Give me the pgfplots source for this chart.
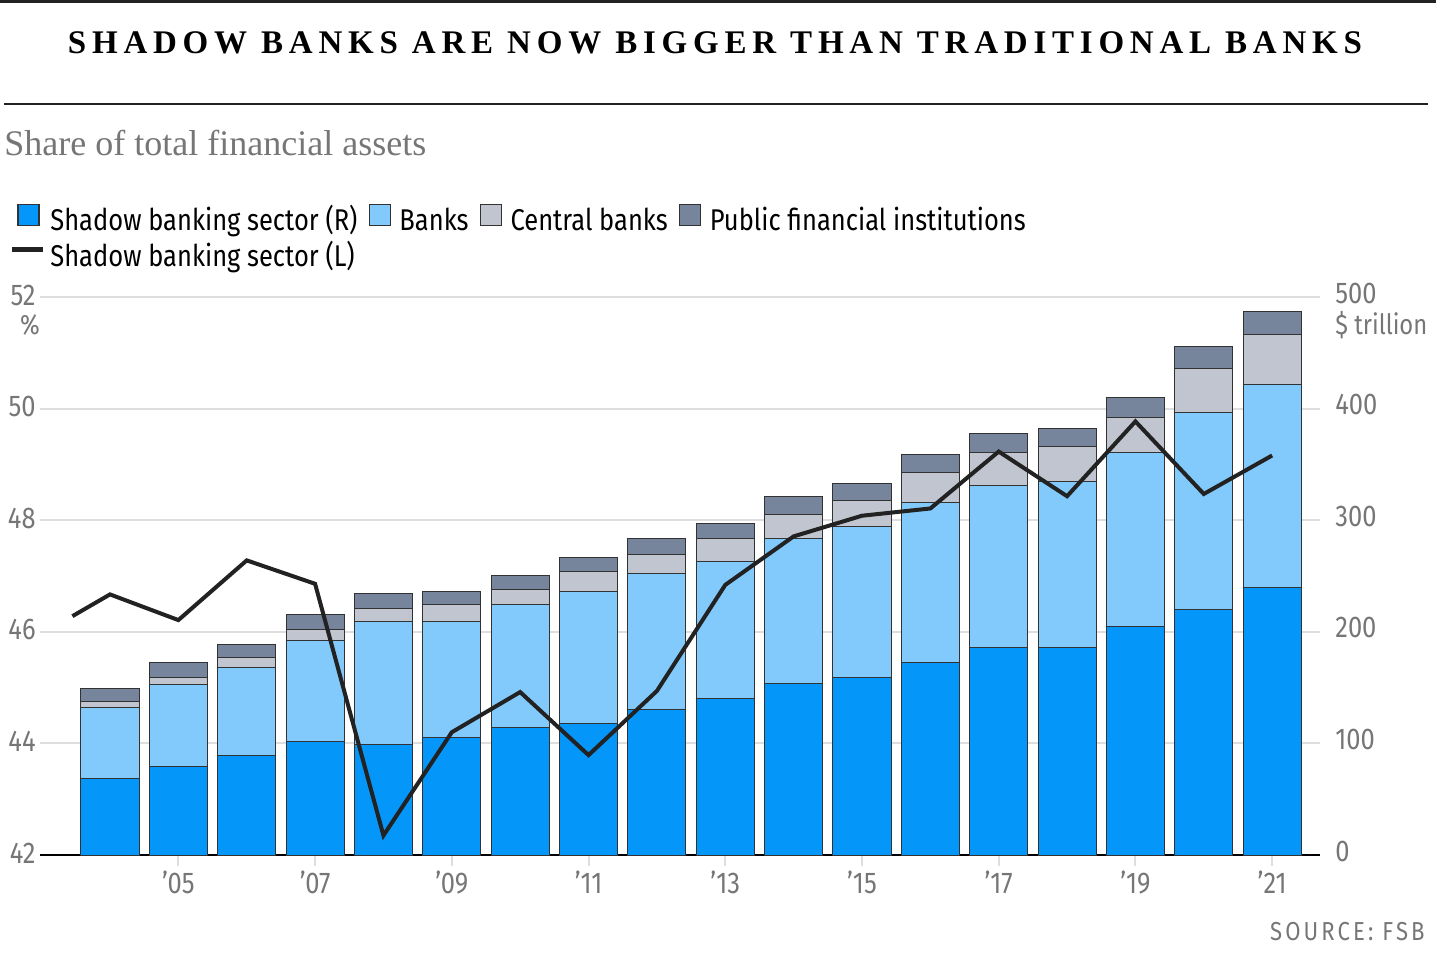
\documentclass[border=0pt]{standalone}
\usepackage{fontspec}
\usepackage{pgfplots}
\pgfplotsset{compat=1.18}
\setmainfont{Fira Sans}[FakeStretch=0.85]
\newfontfamily\titlefont{Liberation Serif}[LetterSpace=17.5]
\newfontfamily\subfont{Liberation Serif}
\newfontfamily\srcfont{Fira Sans}[FakeStretch=0.85,LetterSpace=12]

\definecolor{cShadow}{RGB}{5,150,250}
\definecolor{cBanks}{RGB}{130,202,252}
\definecolor{cCentral}{RGB}{192,197,208}
\definecolor{cPublic}{RGB}{118,132,156}
\definecolor{cOutline}{RGB}{50,50,50}
\definecolor{cGrid}{RGB}{222,222,222}
\definecolor{cText}{RGB}{118,118,118}
\definecolor{cLine}{RGB}{34,34,34}

\pgfplotsset{
  sqimg/.style={legend image code/.code={%
    \path[draw=none,fill=none] (0pt,-1.5pt) rectangle (15.5pt,10.5pt);
    \draw[##1,line width=0.6pt] (3pt,-1pt) rectangle (13.5pt,9.5pt);}},
  lnimg/.style={legend image code/.code={%
    \path[draw=none,fill=none] (0pt,-1.5pt) rectangle (15.5pt,10.5pt);
    \draw[##1,line width=2.5pt] (0pt,4.5pt) -- (15.5pt,4.5pt);}},
  stkbar/.style={draw=cOutline, line width=0.5pt},
}

% values in $ trillion, one column per sector
\pgfplotstableread{
year shadow banks central public
2004 68.4 64.2 5.3 11.4
2005 79.1 73.7 6.4 13.5
2006 89.4 78.3 8.9 12.4
2007 102.1 90.5 9.5 13.1
2008 99.3 109.6 12.0 13.1
2009 105.3 103.6 15.6 12.0
2010 113.8 110.7 13.1 13.1
2011 117.7 118.1 18.1 12.8
2012 130.1 122.4 16.6 14.2
2013 140.1 123.0 20.2 13.5
2014 153.5 130.2 21.3 15.9
2015 159.2 135.1 23.1 15.6
2016 172.7 142.9 27.0 16.6
2017 186.2 145.0 29.8 16.7
2018 186.2 148.6 31.2 15.9
2019 204.6 156.4 30.8 18.5
2020 220.2 175.9 40.1 19.5
2021 239.4 181.9 45.4 20.2
}\assets

% shadow banking share of total financial assets, %
\pgfplotstableread{
year share
2003.45 46.28
2004 46.67
2005 46.21
2006 47.28
2007 46.86
2008 42.35
2009 44.20
2010 44.92
2011 43.79
2012 44.94
2013 46.84
2014 47.71
2015 48.08
2016 48.21
2017 49.23
2018 48.43
2019 49.77
2020 48.47
2021 49.16
}\share

\begin{document}
\begin{tikzpicture}
\useasboundingbox (0pt,0pt) rectangle (718pt,477pt);

\draw[cLine, line width=1.5pt] (0pt,476.25pt) -- (718pt,476.25pt);
\node[anchor=base, inner sep=0pt] at (357.5pt,450pt)
  {\titlefont\bfseries\fontsize{16.5}{18}\selectfont SHADOW BANKS ARE NOW BIGGER THAN TRADITIONAL BANKS};
\draw[cLine, line width=1pt] (2pt,425pt) -- (714pt,425pt);
\node[anchor=base west, inner sep=0pt, text=cText] at (2pt,399pt)
  {\subfont\fontsize{18}{20}\selectfont Share of total financial assets};

\begin{axis}[
  at={(20pt,49.5pt)}, anchor=south west,
  scale only axis, width=640pt, height=279pt,
  xmin=2002.976, xmax=2021.70, ymin=0, ymax=500,
  ybar stacked, bar width=0.85,
  axis x line*=bottom, axis y line*=right,
  axis line style={-},
  x axis line style={draw=black, line width=1pt},
  y axis line style={draw=none},
  ymajorgrids, grid style={cGrid, line width=1pt},
  ytick={0,100,...,500}, yticklabels={0,100,200,300,400,500},
  yticklabel style={anchor=west, inner sep=0pt, xshift=2pt, yshift=2pt, text=cText},
  xtick={2005,2007,...,2021},
  xticklabels={’05,’07,’09,’11,’13,’15,’17,’19,’21},
  xticklabel style={anchor=north, inner sep=0pt, yshift=-2.5pt, text=cText},
  xtick style={cGrid, line width=1pt},
  ytick style={draw=none},
  major tick length=5.5pt, tick align=outside,
  tick label style={font=\fontsize{15}{17}\selectfont},
]
\addplot[stkbar, fill=cShadow] table[x=year, y=shadow] {\assets};
\addplot[stkbar, fill=cBanks] table[x=year, y=banks] {\assets};
\addplot[stkbar, fill=cCentral] table[x=year, y=central] {\assets};
\addplot[stkbar, fill=cPublic] table[x=year, y=public] {\assets};
\end{axis}

\begin{axis}[
  at={(20pt,49.5pt)}, anchor=south west,
  scale only axis, width=640pt, height=279pt,
  xmin=2002.976, xmax=2021.70, ymin=42, ymax=52,
  axis x line=none, axis y line*=left,
  axis line style={-},
  y axis line style={draw=none},
  ytick={42,44,...,52}, yticklabels={42,44,46,48,50,52},
  yticklabel style={anchor=east, inner sep=0pt, xshift=-2pt, yshift=1pt, text=cText},
  ytick style={draw=none},
  tick label style={font=\fontsize{15}{17}\selectfont},
  legend columns=4,
  legend style={at={(-0.02422,1.1703)}, anchor=north west,
    draw=none, fill=none, inner sep=0pt,
    font=\fontsize{15}{18}\selectfont,
    nodes={inner sep=0pt, text height=10.5pt, text depth=3pt},
    row sep=0.5pt,
    /tikz/every odd column/.style={column sep=2.5pt},
    /tikz/every even column/.style={column sep=3pt}},
  legend cell align=left,
]
\addlegendimage{sqimg, fill=cShadow, draw=cOutline}
\addlegendentry{Shadow banking sector (R)}
\addlegendimage{sqimg, fill=cBanks, draw=cOutline}
\addlegendentry{Banks}
\addlegendimage{sqimg, fill=cCentral, draw=cOutline}
\addlegendentry{Central banks}
\addlegendimage{sqimg, fill=cPublic, draw=cOutline}
\addlegendentry{Public financial institutions}
\addplot[cLine, line width=2pt, line join=miter, lnimg] table[x=year, y=share] {\share};
\addlegendentry{Shadow banking sector (L)}
\end{axis}

\node[text=cText, inner sep=0pt] at (15pt,314.5pt) {\fontsize{14}{16}\selectfont\%};
\node[anchor=west, text=cText, inner sep=0pt] at (667.5pt,314.5pt) {\fontsize{14}{16}\selectfont\$ trillion};
\node[anchor=base east, text=cText, inner sep=0pt] at (712.5pt,7pt)
  {\srcfont\fontsize{13}{15}\selectfont SOURCE: FSB};
\end{tikzpicture}
\end{document}
